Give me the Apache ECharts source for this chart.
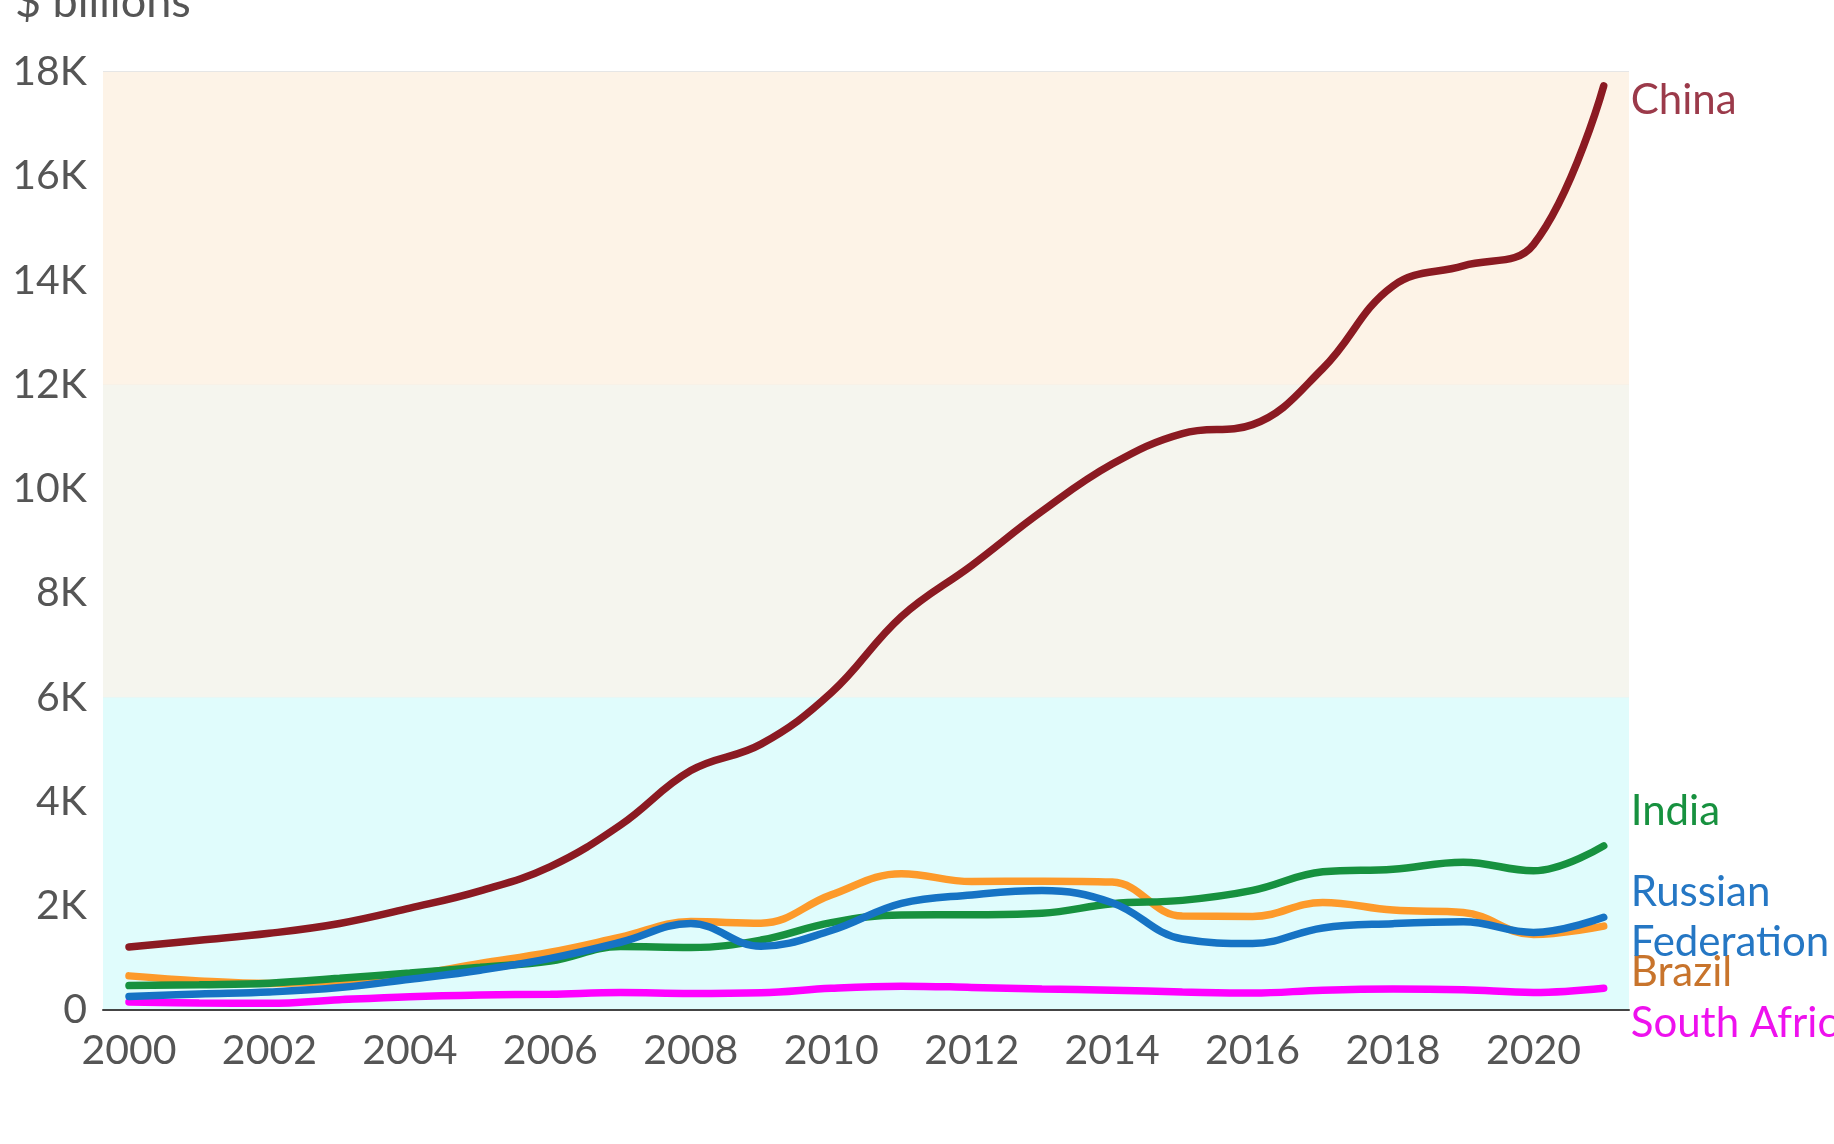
<!DOCTYPE html>
<html>
<head>
<meta charset="utf-8">
<script src="https://cdn.jsdelivr.net/npm/echarts@6/dist/echarts.min.js"></script>
<style>
html,body{margin:0;padding:0;background:#fff;}
#chart{width:1834px;height:1144px;}
</style>
</head>
<body>
<div id="chart"></div>
<script>
const years = [2000,2001,2002,2003,2004,2005,2006,2007,2008,2009,2010,2011,2012,2013,2014,2015,2016,2017,2018,2019,2020,2021];
const xTickYears = [2000,2002,2004,2006,2008,2010,2012,2014,2016,2018,2020];
const yTicks = [0,2000,4000,6000,8000,10000,12000,14000,16000,18000];
const china = [1211,1339,1471,1660,1955,2286,2752,3550,4594,5102,6087,7552,8532,9570,10476,11062,11233,12310,13895,14280,14688,17734];
const india = [468,485,515,608,709,820,940,1217,1199,1342,1676,1823,1828,1857,2039,2104,2295,2651,2703,2836,2672,3150];
const russia = [260,307,345,430,591,764,990,1300,1661,1223,1525,2046,2208,2292,2059,1363,1277,1575,1657,1693,1489,1779];
const brazil = [655,559,509,558,669,892,1108,1397,1696,1667,2209,2616,2465,2473,2456,1802,1796,2064,1917,1873,1449,1609];
const southAfrica = [152,136,129,198,256,289,304,334,316,330,417,458,434,401,381,347,324,381,405,389,338,419];
const bands = [[0,6000],[6000,12000],[12000,18000]];

const FONT = 'Lato';
const pairs = arr => arr.map((v,i)=>[years[i], v]);

function mk(name, data, lineColor, labelColor, offsetY, z, extra){
  const s = {
    name: name,
    type: 'line',
    data: pairs(data),
    smooth: 0.4,
    symbol: 'none',
    z: z,
    lineStyle: {color: lineColor, width: 7.5, cap: 'round'},
    itemStyle: {color: lineColor},
    endLabel: {
      show: true,
      formatter: name === 'Russian Federation' ? 'Russian\nFederation' : name,
      color: labelColor,
      fontFamily: FONT,
      fontSize: 42,
      lineHeight: 50,
      distance: 27,
      offset: [0, offsetY]
    },
    emphasis: {disabled: true}
  };
  return Object.assign(s, extra || {});
}

const bandColors = ['#e0fcfc','#f5f5ee','#fdf3e7'];

const chart = echarts.init(document.getElementById('chart'));
chart.setOption({
  animation: false,
  backgroundColor: '#ffffff',
  title: {
    text: '$ billions',
    left: 10,
    top: -25,
    textStyle: {fontFamily: FONT, fontSize: 45, fontWeight: 'normal', color: '#555555'}
  },
  grid: {left: 103, right: 205, top: 72, bottom: 134, containLabel: false},
  xAxis: {
    type: 'value',
    min: 1999.63,
    max: 2021.36,
    axisLine: {show: true, lineStyle: {color: '#444444', width: 2}},
    axisTick: {show: false},
    splitLine: {show: false},
    axisLabel: {
      customValues: xTickYears,
      formatter: v => String(v),
      fontFamily: FONT, fontSize: 41, color: '#555555', margin: 20
    }
  },
  yAxis: {
    type: 'value',
    min: 0,
    max: 18000,
    interval: 2000,
    axisLine: {show: false},
    axisTick: {show: false},
    splitLine: {show: true, lineStyle: {color: '#e6e6e6', width: 2}},
    axisLabel: {
      formatter: v => (v === 0 ? '0' : (v/1000) + 'K'),
      fontFamily: FONT, fontSize: 41, color: '#555555', margin: 16
    }
  },
  series: [
    mk('South Africa', southAfrica, '#ff00ff', '#ee11ee', 35, 3, {
      markArea: {
        silent: true,
        z: 0,
        data: bands.map((b,i)=>[{yAxis: b[0], itemStyle: {color: bandColors[i]}}, {yAxis: b[1]}])
      }
    }),
    mk('Brazil', brazil, '#fd9a2b', '#c8742c', 46, 4),
    mk('India', india, '#17913f', '#17913f', -34, 5),
    mk('Russian Federation', russia, '#1673c4', '#2577c4', 0, 6),
    mk('China', china, '#8b1a22', '#9b3a4a', 15, 7)
  ]
});
</script>
</body>
</html>
